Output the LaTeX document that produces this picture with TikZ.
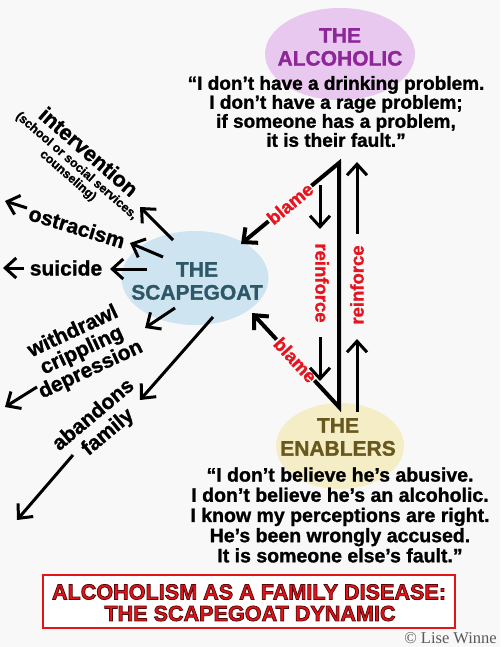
\documentclass[tikz,border=0pt]{standalone}
\usepackage{fontspec}
\setmainfont{Liberation Sans}
\newfontfamily\heavy{Liberation Sans Bold}[FakeBold=1.2]
\newfontfamily\titlefont{Liberation Sans Bold}[FakeBold=3.5]
\newfontfamily\seriffont{Liberation Serif}
\usetikzlibrary{arrows.meta,shapes.geometric}
\definecolor{bg}{RGB}{248,248,248}
\definecolor{alcfill}{RGB}{232,200,238}
\definecolor{alctext}{RGB}{142,38,154}
\definecolor{scfill}{RGB}{206,228,240}
\definecolor{sctext}{RGB}{46,88,104}
\definecolor{enfill}{RGB}{244,237,198}
\definecolor{entext}{RGB}{104,88,30}
\definecolor{lblred}{RGB}{230,20,30}
\definecolor{titlered}{RGB}{226,20,26}
\newcommand{\darkstroke}{\special{pdf:literal direct 0.32 0.03 0.03 RG}}
\tikzset{
  blob/.style={ellipse, draw=none, inner sep=0pt},
  roletext/.style={font=\heavy\fontsize{21}{23}\selectfont, align=center, inner sep=0pt},
  quote/.style={font=\heavy\fontsize{19}{19}\selectfont, align=center, inner sep=0pt},
  sidetext/.style={font=\heavy\fontsize{21}{21}\selectfont, align=center, inner sep=0pt},
  redlbl/.style={font=\heavy\fontsize{18.5}{18.5}\selectfont, text=lblred, inner sep=1pt},
  arr/.style={-{Straight Barb[length=11pt,width=20pt]}, line width=3pt},
  thickarr/.style={{Straight Barb[length=11pt,width=20pt]}-{Straight Barb[length=11pt,width=20pt]}, line width=4pt, line join=miter},
  titletxt/.style={font=\titlefont\fontsize{21.6}{22}\selectfont, align=center, inner sep=0pt, text=titlered},
}
\begin{document}
\begin{tikzpicture}[x=1pt,y=-1pt]
\useasboundingbox (0,0) rectangle (500,647);
\fill[bg] (0,0) rectangle (500,647);

% ellipses
\node[blob, fill=alcfill, minimum width=150pt, minimum height=92pt] (alc) at (340,54) {};
\node[blob, fill=scfill, minimum width=147pt, minimum height=94pt] (scape) at (195,278) {};
\node[blob, fill=enfill, minimum width=128pt, minimum height=86pt] (enab) at (340,446) {};

\node[roletext, text=alctext] (alct) at (340,47) {THE\\ALCOHOLIC};
\node[roletext, text=sctext] (sct) at (197,281) {THE\\SCAPEGOAT};
\node[roletext, text=entext] (ent) at (338,437) {THE\\ENABLERS};

% quotes
\node[quote] (alcq) at (336,111.5) {“I don’t have a drinking problem.\\I don’t have a rage problem;\\if someone has a problem,\\it is their fault.”};
\node[quote, font=\heavy\fontsize{19.5}{20.2}\selectfont] (enq) at (340,515) {“I don’t believe he’s abusive.\\I don’t believe he’s an alcoholic.\\I know my perceptions are right.\\He’s been wrongly accused.\\It is someone else’s fault.”};

% blame connectors
\coordinate (vtop) at (339,163);
\coordinate (vbot) at (339,407);
\coordinate (b1tip) at (241,244);
\coordinate (b2tip) at (252,313);
\draw[thickarr] (b1tip) -- node[redlbl, sloped, fill=bg] (bl1) {blame} (vtop) -- (vbot) -- node[redlbl, sloped, fill=bg] (bl2) {blame} (b2tip);

% reinforce arrows
\coordinate (r1a) at (320,185);
\coordinate (r1b) at (320,229);
\coordinate (r1c) at (320,337);
\coordinate (r1d) at (320,381);
\node[redlbl, rotate=-90] (rf1) at (322,283) {reinforce};
\draw[arr] (r1a) -- (r1b);
\draw[arr] (r1c) -- (r1d);
\coordinate (r2a) at (357,412);
\coordinate (r2b) at (357,339);
\coordinate (r2c) at (357,234);
\coordinate (r2d) at (357,162);
\node[redlbl, rotate=90] (rf2) at (357,285) {reinforce};
\draw[arr] (r2a) -- (r2b);
\draw[arr] (r2c) -- (r2d);

% side labels
\node[sidetext, rotate=-41, font=\heavy\fontsize{12.5}{13}\selectfont] (interv) at (79,163) {{\fontsize{21.5}{21}\selectfont intervention}\\[1.5pt](school or social services,\\counseling)};
\node[sidetext, rotate=-17] (ostr) at (77,227) {ostracism};
\node[sidetext] (suic) at (66,268) {suicide};
\node[sidetext, rotate=25] (withd) at (82,351) {withdrawl\\crippling\\depression};
\node[sidetext, rotate=40, font=\heavy\fontsize{21}{22.5}\selectfont] (aband) at (101,424) {abandons\\family};

% arrows from the scapegoat
\coordinate (a1s) at (173,240); \coordinate (a1t) at (140,207);
\coordinate (a2s) at (163,257); \coordinate (a2t) at (130,243);
\coordinate (a3s) at (147,269); \coordinate (a3t) at (110,269);
\coordinate (a4s) at (175,308); \coordinate (a4t) at (145,328);
\coordinate (a5s) at (213,317); \coordinate (a5t) at (140,400);
\draw[arr] (a1s) -- (a1t);
\draw[arr] (a2s) -- (a2t);
\draw[arr] (a3s) -- (a3t);
\draw[arr] (a4s) -- (a4t);
\draw[arr] (a5s) -- (a5t);

% arrows beyond the labels
\coordinate (f2s) at (27,208); \coordinate (f2t) at (5,201);
\coordinate (f3s) at (24,268); \coordinate (f3t) at (3,268);
\coordinate (f4s) at (37,387); \coordinate (f4t) at (5,407);
\coordinate (f5s) at (73,455); \coordinate (f5t) at (17,520);
\draw[arr] (f2s) -- (f2t);
\draw[arr] (f3s) -- (f3t);
\draw[arr] (f4s) -- (f4t);
\draw[arr] (f5s) -- (f5t);

% title
\node[draw=titlered, fill=white, line width=1.1pt, minimum width=412pt, minimum height=53pt, inner sep=0pt] (tbox) at (249,601.5) {};
\node[titletxt] (tl1) at (249,592) {\darkstroke ALCOHOLISM AS A FAMILY DISEASE:};
\node[titletxt] (tl2) at (250,613.5) {\darkstroke THE SCAPEGOAT DYNAMIC};

\node[anchor=east, inner sep=0pt, font=\seriffont\fontsize{16.5}{17}\selectfont, text=black!65] (copy) at (497,638) {© Lise Winne};
\end{tikzpicture}
\end{document}
